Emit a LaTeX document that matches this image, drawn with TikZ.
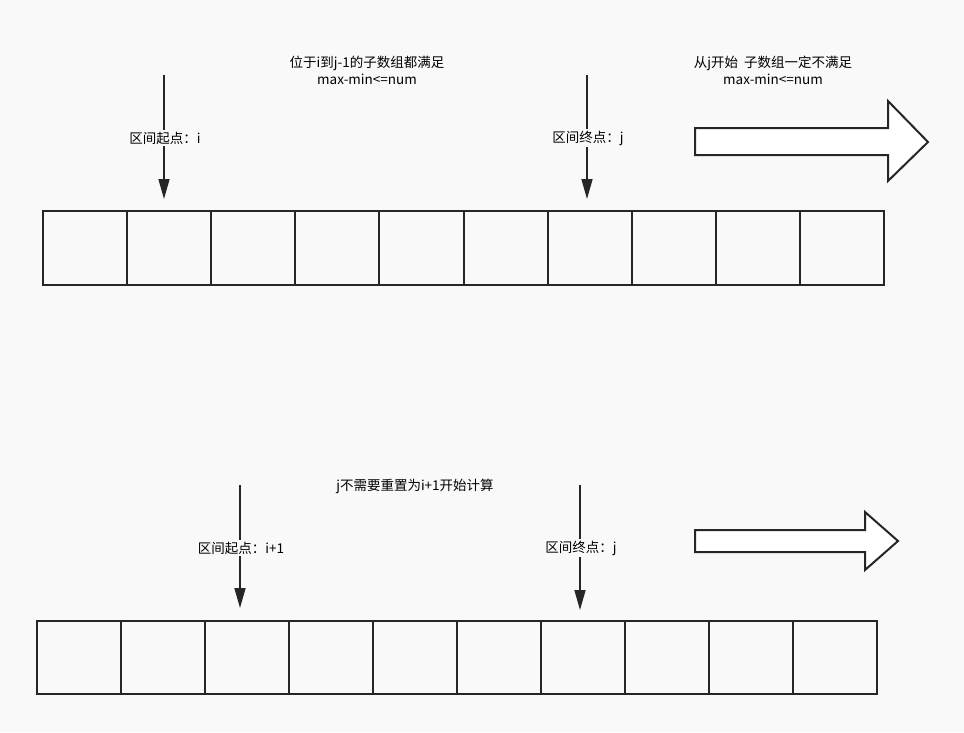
\documentclass[tikz,border=0pt]{standalone}
\usepackage{fontspec}
\setmainfont{Noto Sans CJK SC}
\usetikzlibrary{arrows.meta}
\definecolor{bgc}{HTML}{F9F9F9}
\begin{document}
\begin{tikzpicture}[x=1pt,y=-1pt,
  cell/.style={draw=black!85,line width=2pt},
  ptr/.style={draw=black!85,line width=1.6pt,-{Triangle[length=20pt,width=11pt]}},
  lbl/.style={fill=bgc,inner sep=2pt,font=\fontsize{13.5}{16}\selectfont},
  txt/.style={align=center,font=\fontsize{13.5}{17}\selectfont},
  bigarrow/.style={draw=black!85,line width=2pt,fill=white,line join=miter}]
\fill[bgc] (0,0) rectangle (964,732);
\useasboundingbox (0,0) rectangle (964,732);
% top array
\foreach \i in {0,...,9}{
  \draw[cell] ({43+\i*84.1},211) rectangle ({43+(\i+1)*84.1},285);}
\coordinate (a1s) at (164,75); \coordinate (a1e) at (164,199);
\coordinate (a2s) at (587,75); \coordinate (a2e) at (587,199);
\draw[ptr] (a1s) -- (a1e);
\draw[ptr] (a2s) -- (a2e);
\node[lbl] (l1) at (165,138) {区间起点：i};
\node[lbl] (l2) at (588,138) {区间终点：j};
\node[txt] (t1) at (367,70) {位于i到j-1的子数组都满足\\max-min<=num};
\node[txt] (t2) at (773,70) {从j开始\ \ 子数组一定不满足\\max-min<=num};
\draw[bigarrow] (695,128) -- (888,128) -- (888,101) -- (928,142) -- (888,181) -- (888,155) -- (695,155) -- cycle;
% bottom array
\foreach \i in {0,...,9}{
  \draw[cell] ({37+\i*84},621) rectangle ({37+(\i+1)*84},694);}
\coordinate (b1s) at (240,485); \coordinate (b1e) at (240,608);
\coordinate (b2s) at (580,485); \coordinate (b2e) at (580,610);
\draw[ptr] (b1s) -- (b1e);
\draw[ptr] (b2s) -- (b2e);
\node[lbl] (l3) at (241,548) {区间起点：i+1};
\node[lbl] (l4) at (581,548) {区间终点：j};
\node[txt] (t3) at (415,486) {j不需要重置为i+1开始计算};
\draw[bigarrow] (695,530) -- (865,530) -- (865,512) -- (898,541) -- (865,570) -- (865,552) -- (695,552) -- cycle;
\end{tikzpicture}
\end{document}
